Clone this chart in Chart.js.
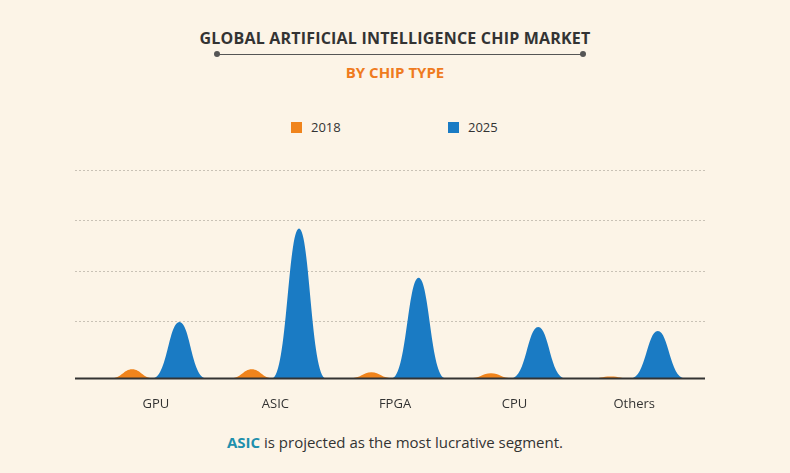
<!DOCTYPE html>
<html><head><meta charset="utf-8">
<script src="https://cdn.jsdelivr.net/npm/chart.js@4/dist/chart.umd.min.js"></script>
<style>
body{margin:0;width:790px;height:473px;background:#fcf4e7;font-family:"Open Sans",sans-serif;position:relative;overflow:hidden}
.t{position:absolute;left:0;width:790px;text-align:center}
#title{top:27px;font-weight:bold;font-size:16px;color:#333;letter-spacing:0.2px}
#sub{top:62px;font-weight:bold;font-size:15px;color:#ef7b1e}
#div{position:absolute;left:217px;top:54px;width:366px;height:1px;background:#555}
.dot{position:absolute;top:51px;width:6px;height:6px;border-radius:3px;background:#555}
#foot{top:432px;font-size:15px;color:#333}
#foot b{color:#1e90ad}
.lg{position:absolute;top:118px;font-size:13px;color:#333}
.lg i{display:inline-block;width:11px;height:11px;margin-right:9px;vertical-align:-1px}
#wrap{position:absolute;left:0;top:150px;width:790px;height:272px}
#axis{position:absolute;left:75px;top:381px;width:630px;height:2px;background:#333}
</style></head><body>
<div class="t" id="title">GLOBAL ARTIFICIAL INTELLIGENCE CHIP MARKET</div>
<div id="div"></div><div class="dot" style="left:214px"></div><div class="dot" style="left:580px"></div>
<div class="t" id="sub">BY CHIP TYPE</div>
<div class="lg" style="left:291px"><i style="background:#f0841c"></i>2018</div>
<div class="lg" style="left:448px"><i style="background:#1a7bc4"></i>2025</div>
<div id="wrap"><canvas id="c"></canvas></div>
<div class="t" id="foot"><b>ASIC</b> is projected as the most lucrative segment.</div>
<script>
const categories=["GPU","ASIC","FPGA","CPU","Others"];
const values2018=[0.18,0.18,0.12,0.10,0.04];
const values2025=[1.12,2.98,2.0,1.02,0.94];
const gridValues=[1.14,2.14,3.14,4.14];
const peaks={id:'peaks',
 beforeDatasetsDraw(ch){
  const {ctx,scales:{y}}=ch;
  ctx.save();ctx.strokeStyle='#c9c2b6';ctx.lineWidth=1;ctx.setLineDash([2,2]);
  gridValues.forEach(v=>{const p=Math.round(y.getPixelForValue(v))+0.5;ctx.beginPath();ctx.moveTo(75,p);ctx.lineTo(705,p);ctx.stroke();});
  ctx.restore();
 },
 afterDatasetsDraw(ch){
  const {ctx,chartArea:a}=ch;
  ch.data.datasets.forEach((ds,i)=>{
   const w=i===0?22:27;
   ch.getDatasetMeta(i).data.forEach(el=>{
    const x=el.x,t=el.y,b=el.base;
    ctx.beginPath();ctx.moveTo(x-w,b);
    ctx.bezierCurveTo(x-w*0.45,b,x-w*0.4,t,x,t);
    ctx.bezierCurveTo(x+w*0.4,t,x+w*0.45,b,x+w,b);
    ctx.closePath();ctx.fillStyle=ds.peakColor;ctx.fill();
   });
  });
  ctx.save();ctx.strokeStyle='#333';ctx.lineWidth=2;ctx.beginPath();ctx.moveTo(75,a.bottom);ctx.lineTo(705,a.bottom);ctx.stroke();ctx.restore();
 }};
new Chart(document.getElementById('c'),{type:'bar',
 data:{labels:categories,datasets:[
  {label:'2018',data:values2018,backgroundColor:'rgba(0,0,0,0)',peakColor:'#f0841c'},
  {label:'2025',data:values2025,backgroundColor:'rgba(0,0,0,0)',peakColor:'#1a7bc4'}]},
 options:{responsive:true,maintainAspectRatio:false,animation:false,
  categoryPercentage:0.79,barPercentage:0.5,
  layout:{padding:{left:96,right:96,top:2}},
  plugins:{legend:{display:false},tooltip:{enabled:false}},
  scales:{y:{display:false,min:0,max:4.5},
   x:{grid:{display:false},border:{display:false},ticks:{color:'#333',font:{family:'Open Sans',size:13},padding:10}}}},
 plugins:[peaks]});
</script></body></html>
